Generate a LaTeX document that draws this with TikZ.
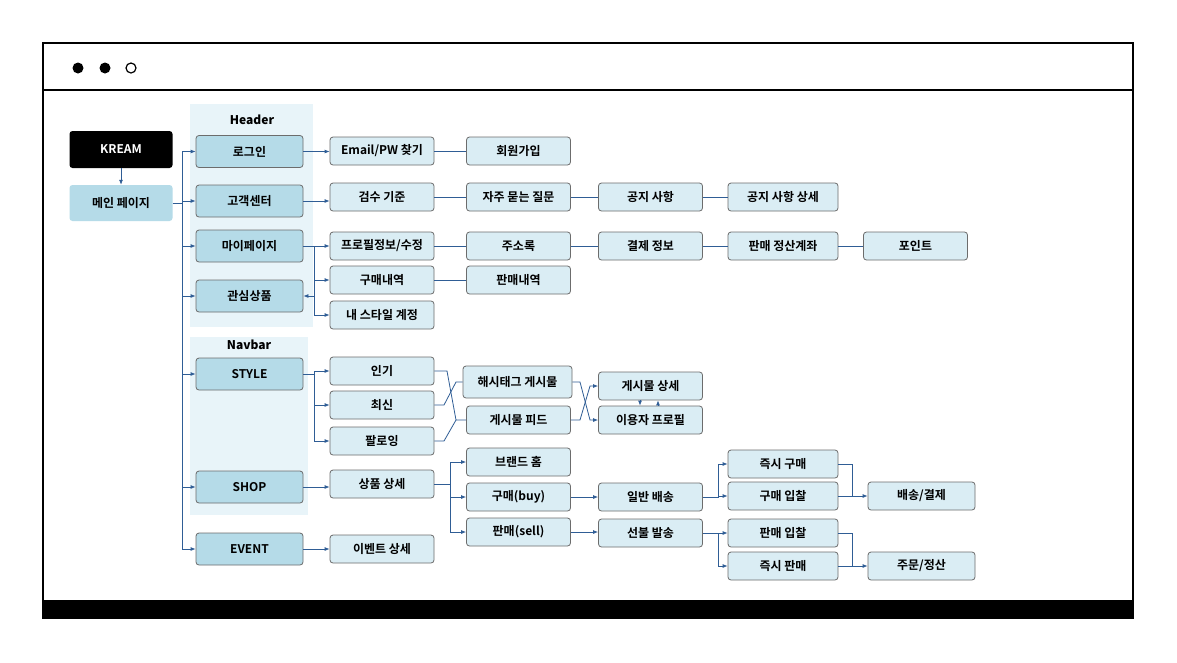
\documentclass[tikz,border=0pt]{standalone}
\usepackage{fontspec}
\setmainfont{Noto Sans CJK KR}[BoldFont={* Bold}]
\usetikzlibrary{arrows.meta}
\definecolor{lc}{HTML}{2F5D95}
\definecolor{bx}{HTML}{DAEDF4}
\definecolor{bd}{HTML}{B5DBE8}
\definecolor{pn}{HTML}{E8F4F9}
\begin{document}
\begin{tikzpicture}[x=1pt,y=-1pt,
 font=\fontsize{12}{14}\selectfont\bfseries,
 b/.style={draw=gray!85!black,fill=bx,rounded corners=3pt,minimum height=28pt,minimum width=104pt,inner sep=0pt,line width=0.8pt},
 l1/.style={b,fill=bd,minimum width=107pt,minimum height=32pt},
 w/.style={b,minimum width=110pt},
 ln/.style={lc,line width=0.8pt},
 ar/.style={ln,-{Latex[length=5pt,width=4pt]}}]
\useasboundingbox (0,0) rectangle (1177,662);
\fill[white] (0,0) rectangle (1177,662);
\draw[line width=2pt] (43,43) rectangle (1133,618);
\draw[line width=2pt] (43,90) -- (1133,90);
\fill[black] (43,600) rectangle (1133,618);
\fill (78,68) circle (5.5); \fill (105,68) circle (5.5);
\draw[line width=1.2pt] (131,68) circle (5);
\fill[pn] (190,104) rectangle (313,327);
\fill[pn] (190,337) rectangle (308,515);
\node[font=\fontsize{12}{14}\selectfont\bfseries\itshape] (hd) at (252,120) {Header};
\node[font=\fontsize{12}{14}\selectfont\bfseries\itshape] (nv) at (249,345) {Navbar};
\node[fill=black,text=white,rounded corners=3pt,minimum width=103pt,minimum height=37pt] (kr) at (121,149.5) {KREAM};
\node[fill=bd,rounded corners=3pt,minimum width=103pt,minimum height=36pt] (mn) at (121,203) {메인 페이지};
\draw[ar] (kr) -- (mn);
% level1
\node[l1] (lg) at (249.5,151.5) {로그인};
\node[l1] (cs) at (249.5,201) {고객센터};
\node[l1] (mp) at (249.5,246) {마이페이지};
\node[l1] (it) at (249.5,296) {관심상품};
\node[l1] (st) at (249.5,374) {STYLE};
\node[l1] (sh) at (249.5,487) {SHOP};
\node[l1] (ev) at (249.5,549) {EVENT};
\coordinate (t0) at (182,151.5); \coordinate (t1) at (182,549);
\draw[ln] (mn.east) -- (182,203);
\draw[ln] (t0) -- (t1);
\foreach \n in {lg,cs,mp,it,st,sh,ev} \draw[ar] (t0 |- \n.west) -- (\n.west);
% level2
\node[b] (em) at (382,151) {Email/PW 찾기};
\node[b] (gs) at (382,197) {검수 기준};
\node[b] (pf) at (382,246) {프로필정보/수정};
\node[b] (gm) at (382,280) {구매내역};
\node[b] (ms) at (382,315) {내 스타일 계정};
\node[b] (ig) at (382,371) {인기};
\node[b] (cn) at (382,405) {최신};
\node[b] (fl) at (382,441) {팔로잉};
\node[b] (pd) at (382,484) {상품 상세};
\node[b] (ed) at (382,549) {이벤트 상세};
\draw[ar] (lg.east) -- (em.west |- lg.east);
\draw[ar] (cs.east) -- (gs.west |- cs.east);
\draw[ar] (mp.east) -- (pf.west);
\draw[ln] (314,246) -- (314,315);
\draw[ar] (314,280) -- (gm.west);
\draw[ar] (314,315) -- (ms.west);
\draw[ar] (314,296) -- (it.east);
\draw[ln] (st.east) -- (314,374);
\draw[ln] (314,371) -- (314,441);
\draw[ar] (314,371) -- (ig.west);
\draw[ar] (314,405) -- (cn.west);
\draw[ar] (314,441) -- (fl.west);
\draw[ar] (sh.east) -- (pd.west |- sh.east);
\draw[ar] (ev.east) -- (ed.west);
% level3
\node[b] (jn) at (518.5,151) {회원가입};
\node[b] (fq) at (518.5,197) {자주 묻는 질문};
\node[b] (ad) at (518.5,246) {주소록};
\node[b] (sl) at (518.5,280) {판매내역};
\node[b,minimum width=109pt,minimum height=32pt] (hs) at (517.5,382) {해시태그 게시물};
\node[b] (fd) at (518.5,420) {게시물 피드};
\node[b] (bh) at (518.5,462) {브랜드 홈};
\node[b] (by) at (518.5,497) {구매(buy)};
\node[b] (se) at (518.5,532) {판매(sell)};
\draw[ln] (em) -- (jn);
\draw[ln] (gs) -- (fq);
\draw[ln] (pf) -- (ad);
\draw[ln] (gm) -- (sl);
\draw[ln] (ig.east) -- (447,371) -- (456,420) -- (fd.west);
\draw[ln] (fl.east) -- (444,441) -- (456,420);
\draw[ln] (cn.east) -- (444,405) -- (456,382) -- (hs.west);
\draw[ln] (pd.east) -- (450,484);
\draw[ln] (450,462) -- (450,532);
\draw[ar] (450,462) -- (bh.west);
\draw[ar] (450,497) -- (by.west);
\draw[ar] (450,532) -- (se.west);
% level4
\node[b] (nt) at (650.5,197) {공지 사항};
\node[b] (pi) at (650.5,246) {결제 정보};
\node[b] (pdt) at (650.5,386) {게시물 상세};
\node[b] (up) at (650.5,420) {이용자 프로필};
\node[b] (nd) at (650.5,497) {일반 배송};
\node[b] (pp) at (650.5,533) {선불 발송};
\draw[ln] (fq) -- (nt);
\draw[ln] (ad) -- (pi);
\draw[ar] (hs.east) -- (580,382) -- (590,420) -- (up.west);
\draw[ar] (fd.east) -- (580,420) -- (590,386) -- (pdt.west);
\coordinate (da) at (640,386); \coordinate (ua) at (658,386);
\draw[ar] (da |- pdt.south) -- (da |- up.north);
\draw[ar] (ua |- up.north) -- (ua |- pdt.south);
\draw[ar] (by) -- (nd);
\draw[ar] (se.east) -- (pp.west |- se.east);
% level5
\node[w] (nds) at (783,197) {공지 사항 상세};
\node[w] (acc) at (783,246) {판매 정산계좌};
\node[w] (ib) at (783,464) {즉시 구매};
\node[w] (bb) at (783,496) {구매 입찰};
\node[w] (sb) at (783,533) {판매 입찰};
\node[w] (is) at (783,566) {즉시 판매};
\draw[ln] (nt) -- (nds);
\draw[ln] (pi) -- (acc);
\draw[ln] (nd.east) -- (718,497) -- (718,464);
\draw[ar] (718,464) -- (ib.west);
\draw[ar] (718,496) -- (bb.west);
\draw[ln] (pp.east) -- (718,533) -- (718,566);
\draw[ar] (718,533) -- (sb.west);
\draw[ar] (718,566) -- (is.west);
% level6
\node[b] (pt) at (915.5,246) {포인트};
\node[b,minimum width=107pt] (dp) at (921.5,496) {배송/결제};
\node[b,minimum width=107pt] (os) at (921.5,566) {주문/정산};
\draw[ln] (acc) -- (pt);
\draw[ln] (ib.east) -- (852,464) -- (852,496);
\draw[ar] (bb.east) -- (dp.west);
\draw[ln] (sb.east) -- (852,533) -- (852,566);
\draw[ar] (is.east) -- (os.west);
\end{tikzpicture}
\end{document}
